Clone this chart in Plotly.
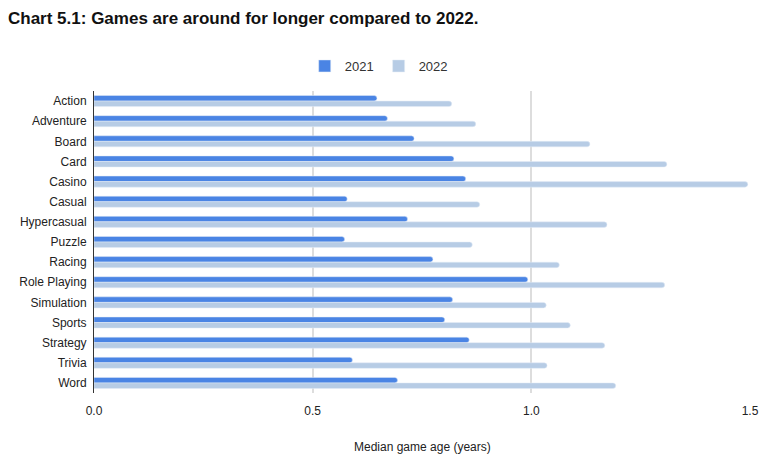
import plotly.graph_objects as go

# Dữ liệu: tuổi trung vị của game theo thể loại
categories = ["Action", "Adventure", "Board", "Card", "Casino", "Casual", "Hypercasual",
              "Puzzle", "Racing", "Role Playing", "Simulation", "Sports", "Strategy",
              "Trivia", "Word"]
values_2021 = [0.647, 0.671, 0.732, 0.823, 0.850, 0.579, 0.717, 0.573, 0.775, 0.992,
               0.820, 0.802, 0.858, 0.591, 0.694]
values_2022 = [0.818, 0.873, 1.134, 1.310, 1.495, 0.882, 1.173, 0.865, 1.064, 1.305,
               1.034, 1.089, 1.168, 1.036, 1.193]
tick_vals = [0, 0.5, 1.0, 1.5]
tick_text = ["0.0", "0.5", "1.0", "1.5"]

series = [("2021", values_2021, "#4a84e4"), ("2022", values_2022, "#b7cce5")]

fig = go.Figure()
for name, vals, color in series:
    fig.add_trace(go.Bar(y=categories, x=vals, name=name, orientation="h",
                         legendgroup=name, offsetgroup=name, showlegend=False,
                         marker=dict(color=color, cornerradius=3)))
for name, vals, color in series:
    # chỉ để hiện ô vuông trong chú thích
    fig.add_trace(go.Bar(y=[None], x=[None], name=name, orientation="h",
                         legendgroup=name, offsetgroup=name, marker=dict(color=color)))

H = 449
# trang có lề body 8px nên khung hình nhỏ hơn cửa sổ
fig.update_layout(
    width=752, height=H,
    barmode="group", bargap=0.45, bargroupgap=0.0,
    plot_bgcolor="white", paper_bgcolor="white",
    font=dict(family="Arial, Liberation Sans", size=12, color="#222"),
    margin=dict(l=86, r=10, t=83, b=64, autoexpand=False),
    title=dict(text="<b>Chart 5.1: Games are around for longer compared to 2022.</b>",
               x=0, xanchor="left", y=1 - 10 / H, yanchor="middle",
               pad=dict(l=0, t=0), font=dict(size=17, color="#111")),
    legend=dict(orientation="h", x=0.434, xanchor="center",
                yref="container", y=1 - 58 / H, yanchor="middle",
                font=dict(size=13, color="#333")),
    xaxis=dict(range=[0, 1.5], tickvals=tick_vals, ticktext=tick_text,
               showgrid=True, gridcolor="#dddddd", gridwidth=1.5,
               zeroline=False, showline=False, automargin=False,
               ticklabelstandoff=9),
    yaxis=dict(autorange="reversed", showgrid=False, showline=True,
               linecolor="#333", linewidth=1, ticks="", ticklabelstandoff=4,
               automargin=False),
)

# tiêu đề trục x
fig.add_annotation(text="Median game age (years)", xref="paper", x=0.5,
                   yref="paper", y=-(439 - 385) / (385 - 83), yanchor="middle",
                   showarrow=False, font=dict(size=12, color="#222"))

fig.write_html("out.html")
